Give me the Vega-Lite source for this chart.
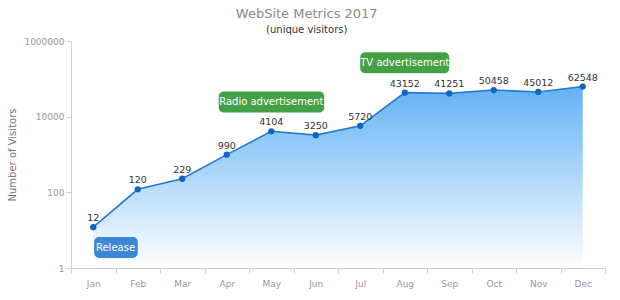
{
  "$schema": "https://vega.github.io/schema/vega-lite/v6.json",
  "width": 620,
  "height": 300,
  "autosize": {"type": "fit", "contains": "padding"},
  "padding": {"left": 7, "right": 14, "top": 8, "bottom": 12},
  "background": "white",
  "config": {
    "font": "DejaVu Sans",
    "view": {"stroke": null},
    "axis": {"domainColor": "#d0d0d0", "tickColor": "#d0d0d0", "labelColor": "#999999", "labelFontSize": 9, "titleColor": "#777777", "titleFontSize": 10, "titleFontWeight": "normal", "grid": false, "tickSize": 5}
  },
  "title": {"text": "WebSite Metrics 2017", "subtitle": "(unique visitors)", "anchor": "middle", "frame": "bounds", "fontSize": 13, "fontWeight": "normal", "color": "#8a8a8a", "subtitleFontSize": 10, "subtitleColor": "#333333", "subtitlePadding": 4, "offset": 2},
  "datasets": {
    "visits": [
      {"month": "Jan", "visitors": 12},
      {"month": "Feb", "visitors": 120},
      {"month": "Mar", "visitors": 229},
      {"month": "Apr", "visitors": 990},
      {"month": "May", "visitors": 4104},
      {"month": "Jun", "visitors": 3250},
      {"month": "Jul", "visitors": 5720},
      {"month": "Aug", "visitors": 43152},
      {"month": "Sep", "visitors": 41251},
      {"month": "Oct", "visitors": 50458},
      {"month": "Nov", "visitors": 45012},
      {"month": "Dec", "visitors": 62548}
    ],
    "notes": [
      {"label": "Release", "from": "Jan", "to": "Feb", "at": "Jan", "low": 1.84, "high": 6.6, "mid": 3.45, "kind": "blue"},
      {"label": "Radio advertisement", "from": "Apr", "to": "Jun", "at": "May", "low": 12900, "high": 46600, "mid": 24500, "kind": "green"},
      {"label": "TV advertisement", "from": "Jul", "to": "Sep", "at": "Aug", "low": 140000, "high": 503000, "mid": 265000, "kind": "green"}
    ]
  },
  "layer": [
    {
      "data": {"name": "visits"},
      "mark": {"type": "area", "color": {"gradient": "linear", "x1": 0, "y1": 0, "x2": 0, "y2": 1, "stops": [{"offset": 0, "color": "#62b2f5"}, {"offset": 1, "color": "#ffffff"}]}},
      "encoding": {
        "x": {"field": "month", "type": "ordinal", "bandPosition": 0.5,
              "scale": {"type": "band", "paddingInner": 0, "paddingOuter": 0, "domain": ["Jan", "Feb", "Mar", "Apr", "May", "Jun", "Jul", "Aug", "Sep", "Oct", "Nov", "Dec"]},
              "axis": {"title": null, "labelAngle": 0, "tickBand": "extent", "labelPadding": 6}},
        "y": {"field": "visitors", "type": "quantitative",
              "scale": {"type": "log", "domain": [1, 1000000], "nice": false},
              "axis": {"title": "Number of Visitors", "values": [1, 100, 10000, 1000000], "format": "d", "titlePadding": 6, "labelPadding": 2}},
        "y2": {"datum": 1}
      }
    },
    {
      "data": {"name": "visits"},
      "mark": {"type": "line", "color": "#2479d6", "strokeWidth": 1.6},
      "encoding": {
        "x": {"field": "month", "type": "ordinal", "bandPosition": 0.5},
        "y": {"field": "visitors", "type": "quantitative"}
      }
    },
    {
      "data": {"name": "visits"},
      "mark": {"type": "point", "filled": true, "color": "#1565c0", "opacity": 1, "size": 40},
      "encoding": {
        "x": {"field": "month", "type": "ordinal", "bandPosition": 0.5},
        "y": {"field": "visitors", "type": "quantitative"}
      }
    },
    {
      "data": {"name": "visits"},
      "mark": {"type": "text", "dy": -9, "fontSize": 9.5, "color": "#333333"},
      "encoding": {
        "x": {"field": "month", "type": "ordinal", "bandPosition": 0.5},
        "y": {"field": "visitors", "type": "quantitative"},
        "text": {"field": "visitors", "type": "quantitative", "format": "d"}
      }
    },
    {
      "data": {"name": "notes"},
      "transform": [{"filter": "datum.kind == 'blue'"}],
      "mark": {"type": "rect", "cornerRadius": 5, "color": "#3b86d6"},
      "encoding": {
        "x": {"field": "from", "type": "ordinal", "bandPosition": 0.52},
        "x2": {"field": "to", "bandPosition": 0.5},
        "y": {"field": "low", "type": "quantitative"},
        "y2": {"field": "high"}
      }
    },
    {
      "data": {"name": "notes"},
      "transform": [{"filter": "datum.label == 'Radio advertisement'"}],
      "mark": {"type": "rect", "cornerRadius": 5, "color": "#43a047"},
      "encoding": {
        "x": {"field": "from", "type": "ordinal", "bandPosition": 0.32},
        "x2": {"field": "to", "bandPosition": 0.69},
        "y": {"field": "low", "type": "quantitative"},
        "y2": {"field": "high"}
      }
    },
    {
      "data": {"name": "notes"},
      "transform": [{"filter": "datum.label == 'TV advertisement'"}],
      "mark": {"type": "rect", "cornerRadius": 5, "color": "#43a047"},
      "encoding": {
        "x": {"field": "from", "type": "ordinal", "bandPosition": 0.5},
        "x2": {"field": "to", "bandPosition": 0.5},
        "y": {"field": "low", "type": "quantitative"},
        "y2": {"field": "high"}
      }
    },
    {
      "data": {"name": "notes"},
      "transform": [{"filter": "datum.kind == 'blue'"}],
      "mark": {"type": "text", "color": "white", "fontSize": 10, "baseline": "middle", "align": "center"},
      "encoding": {
        "x": {"field": "at", "type": "ordinal", "bandPosition": 1},
        "y": {"field": "mid", "type": "quantitative"},
        "text": {"field": "label"}
      }
    },
    {
      "data": {"name": "notes"},
      "transform": [{"filter": "datum.kind == 'green'"}],
      "mark": {"type": "text", "color": "white", "fontSize": 10, "baseline": "middle", "align": "center"},
      "encoding": {
        "x": {"field": "at", "type": "ordinal", "bandPosition": 0.5},
        "y": {"field": "mid", "type": "quantitative"},
        "text": {"field": "label"}
      }
    }
  ]
}
